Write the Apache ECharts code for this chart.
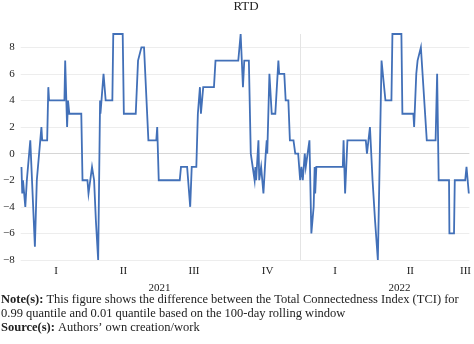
<!DOCTYPE html>
<html>
<head>
<meta charset="utf-8">
<script src="https://cdn.jsdelivr.net/npm/echarts@6/dist/echarts.min.js"></script>
<style>
  html, body { margin: 0; padding: 0; background: #fff; }
  #chart { width: 474px; height: 344px; }
</style>
</head>
<body>
<div id="chart"></div>
<script>
// RTD series: days counted from 1 Jan 2021, and the RTD value at each turning point
const dayIndex = [
  1, 2, 3, 6, 8, 9.5, 12.5, 14, 17, 17.5, 18.5, 21, 22, 27, 28, 34.5, 36, 37, 57, 58,
  60.5, 61.7, 63.4, 79, 80.6, 87, 88.4, 93, 95.7, 98, 101, 103.5, 104, 108, 110.8, 119.5,
  120.7, 133, 134.5, 150, 153, 154.5, 157.4, 160.8, 166.5, 176.8, 178, 180, 207.4, 209,
  217, 221, 223, 229, 231, 233.7, 235, 238, 252, 254, 283.7, 286.8, 289.8, 291.5, 297.5,
  300, 302.5, 305, 306, 307, 310, 311, 313.5, 316.5, 319.5, 320.8, 321.5, 324.3, 327.3,
  332, 336, 337, 343.7, 345.5, 349, 351, 355.7, 358, 361.8, 364.4, 366, 367.8, 370.4,
  371.7, 374.3, 376.5, 379, 382, 383.3, 384, 385.5, 420, 421, 423, 426, 450, 451.5,
  455.4, 458.8, 460, 462, 465.7, 470.5, 475.6, 483.4, 484.7, 496.4, 497.7, 512, 513,
  515.8, 517.5, 519.6, 521.8, 524, 529.5, 541, 543, 545, 558.5, 559, 565, 566, 579.6,
  581.3, 584.3
];
const rtdValues = [
  -1, -3, -2, -4, -2, -2, 1, 1, -5, -5, -7, -2, -2, 2, 1, 1, 5, 4, 4, 7,
  2, 4, 3, 3, -2, -2, -3, -1, -2, -5, -8, 4, 3, 6, 4, 4,
  9, 9, 3, 3, 7, 7, 8, 8, 1, 1, 2, -2, -2, -1,
  -1, -4, -1, -1, 3, 5, 3, 5, 5, 7, 7, 9, 5, 7, 7,
  0, 0, -2, -1, -2, 1, -2, -1, -3, 0, 1, 0, 6, 3,
  3, 7, 6, 6, 4, 4, 1, 1, 0, 0, -2, -1, -2, 0,
  -1, -1, 1, -6, -4, -1, -3, -1, -1, 1, -3, 1, 1, 0,
  2, -2, -2, -5, -8, 7, 4, 4, 9, 9, 3, 3, 2,
  6, 7, 7, 8, 8, 1, 1, 6, -2, -2, -6, -6, -2, -2,
  -1, -3
];

// Quarter labels and the day each is centred on
const quarterNames = ['I', 'II', 'III', 'IV', 'I', 'II', 'III'];
const quarterDays = [46, 134, 226, 322, 410, 508, 580];
// Year labels
const yearNames = ['2021', '2022'];
const yearDays = [181, 494];
// Day on which 2022 begins
const yearBreakDays = [365];

const yTicks = [-8, -6, -4, -2, 0, 2, 4, 6, 8];

const FONT = '"Liberation Serif", "Times New Roman", serif';
const series = dayIndex.map((d, i) => [d, rtdValues[i]]);

const chart = echarts.init(document.getElementById('chart'), null, { renderer: 'canvas' });

const gridColor = '#ededed';
const zeroColor = '#d6d6d6';

chart.setOption({
  animation: false,
  backgroundColor: '#ffffff',
  grid: { left: 20, right: 2, top: 34, bottom: 84 },
  xAxis: [
    {
      type: 'value', min: 0, max: 585,
      axisLine: { show: false, onZero: false },
      splitLine: { show: false },
      axisTick: {
        show: true, inside: true, length: 226,
        customValues: yearBreakDays,
        lineStyle: { color: '#e4e4e4', width: 1 }
      },
      axisLabel: {
        show: true, margin: 6,
        customValues: quarterDays,
        fontFamily: FONT, fontSize: 11, color: '#222',
        formatter: v => quarterNames[quarterDays.indexOf(v)] || ''
      }
    },
    {
      type: 'value', min: 0, max: 585, position: 'bottom', offset: 17,
      axisLine: { show: false, onZero: false },
      splitLine: { show: false },
      axisTick: { show: false },
      axisLabel: {
        show: true, margin: 6,
        customValues: yearDays,
        fontFamily: FONT, fontSize: 11, color: '#222',
        formatter: v => yearNames[yearDays.indexOf(v)] || ''
      }
    }
  ],
  yAxis: {
    type: 'value', min: -8, max: 9, interval: 2,
    axisLine: { show: false },
    axisTick: { show: false },
    axisLabel: {
      showMaxLabel: false, margin: 6,
      fontFamily: FONT, fontSize: 11, color: '#222',
      formatter: v => (yTicks.indexOf(v) >= 0 ? String(v).replace('-', '\u2212') : '')
    },
    splitLine: {
      show: true, showMaxLine: false, showMinLine: true,
      lineStyle: {
        color: yTicks.map(v => (v === 0 ? zeroColor : gridColor)),
        width: 1
      }
    }
  },
  series: [
    {
      type: 'line',
      xAxisIndex: 0,
      data: series,
      showSymbol: false,
      symbol: 'none',
      lineStyle: { color: '#4270b8', width: 1.8, join: 'miter' },
      clip: false,
      silent: true
    }
  ],
  graphic: [
    {
      type: 'text', x: 246, y: 7,
      style: {
        text: 'RTD', fontFamily: FONT, fontSize: 13, fill: '#222',
        textAlign: 'center', textVerticalAlign: 'middle'
      }
    },
    {
      type: 'text', x: 1, y: 300,
      style: {
        text: '{b|Note(s):} This figure shows the difference between the Total Connectedness Index (TCI) for',
        fontFamily: FONT, fontSize: 12.5, fill: '#222',
        textVerticalAlign: 'middle',
        rich: { b: { fontFamily: FONT, fontSize: 12.5, fontWeight: 'bold', fill: '#222' } }
      }
    },
    {
      type: 'text', x: 1, y: 314,
      style: {
        text: '0.99 quantile and 0.01 quantile based on the 100-day rolling window',
        fontFamily: FONT, fontSize: 12.5, fill: '#222',
        textVerticalAlign: 'middle'
      }
    },
    {
      type: 'text', x: 1, y: 328,
      style: {
        text: '{b|Source(s):} Authors\u2019 own creation/work',
        fontFamily: FONT, fontSize: 12.5, fill: '#222',
        textVerticalAlign: 'middle',
        rich: { b: { fontFamily: FONT, fontSize: 12.5, fontWeight: 'bold', fill: '#222' } }
      }
    }
  ]
});
</script>
</body>
</html>
